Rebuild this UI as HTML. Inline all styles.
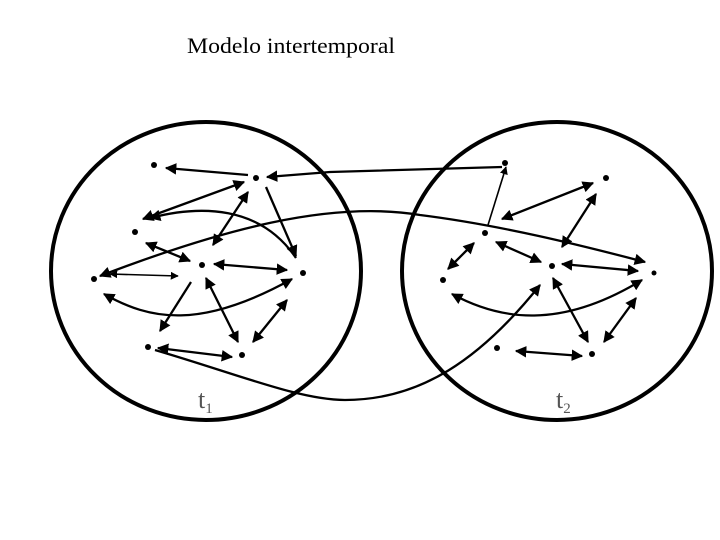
<!DOCTYPE html>
<html><head><style>body{margin:0;background:#fff}svg{display:block}</style></head><body>
<svg width="720" height="540" viewBox="0 0 720 540">
<defs><marker id="a" viewBox="0 0 10 10" refX="9" refY="5" markerWidth="5" markerHeight="5" orient="auto-start-reverse"><path d="M0,0L10,5L0,10z" fill="#000"/></marker></defs>
<text x="187" y="53" font-family="Liberation Serif,serif" font-size="22" textLength="208" lengthAdjust="spacingAndGlyphs">Modelo intertemporal</text>
<ellipse cx="206" cy="271" rx="155" ry="149" fill="none" stroke="#000" stroke-width="4"/>
<ellipse cx="557" cy="271" rx="155" ry="149" fill="none" stroke="#000" stroke-width="4"/>
<g fill="#000">
<circle cx="154" cy="165" r="3"/><circle cx="256" cy="178" r="3"/><circle cx="135" cy="232" r="3"/><circle cx="202" cy="265" r="3"/><circle cx="303" cy="273" r="3"/><circle cx="94" cy="279" r="3"/><circle cx="148" cy="347" r="3"/><circle cx="242" cy="355" r="3"/>
<circle cx="505" cy="163" r="3"/><circle cx="606" cy="178" r="3"/><circle cx="485" cy="233" r="3"/><circle cx="552" cy="266" r="3"/><circle cx="654" cy="273" r="2.5"/><circle cx="443" cy="280" r="3"/><circle cx="497" cy="348" r="3"/><circle cx="592" cy="354" r="3"/>
</g>
<g fill="none" stroke="#000" stroke-width="2.3">
<path d="M502,167 L330,172 L267,177" marker-end="url(#a)"/>
<path d="M248,175 L166,168" marker-end="url(#a)"/>
<path d="M244,182 L143,219" marker-start="url(#a)" marker-end="url(#a)"/>
<path d="M248,192 L213,245" marker-start="url(#a)" marker-end="url(#a)"/>
<path d="M266,187 L296,256" marker-end="url(#a)"/>
<path d="M150,218 C200,205 260,205 296,258" marker-start="url(#a)"/>
<path d="M146,243 L190,261" marker-start="url(#a)" marker-end="url(#a)"/>
<path d="M214,264 L287,270" marker-start="url(#a)" marker-end="url(#a)"/>
<path d="M110,274 L178,276" stroke-width="1.6" marker-start="url(#a)" marker-end="url(#a)"/>
<path d="M100,276 C220,230 330,200 420,215 C500,225 580,245 645,262" marker-start="url(#a)" marker-end="url(#a)"/>
<path d="M191,282 L160,331" marker-end="url(#a)"/>
<path d="M206,278 L238,342" marker-start="url(#a)" marker-end="url(#a)"/>
<path d="M104,294 C150,320 200,330 292,279" marker-start="url(#a)" marker-end="url(#a)"/>
<path d="M287,300 L253,342" marker-start="url(#a)" marker-end="url(#a)"/>
<path d="M158,348 L232,357" marker-start="url(#a)" marker-end="url(#a)"/>
<path d="M155,350 C240,375 300,400 345,400 C420,400 480,360 540,285" marker-end="url(#a)"/>
<path d="M488,225 L506,167" stroke-width="1.6" marker-end="url(#a)"/>
<path d="M502,219 L593,183" marker-start="url(#a)" marker-end="url(#a)"/>
<path d="M562,247 L596,194" marker-start="url(#a)" marker-end="url(#a)"/>
<path d="M496,242 L541,262" marker-start="url(#a)" marker-end="url(#a)"/>
<path d="M562,264 L638,271" marker-start="url(#a)" marker-end="url(#a)"/>
<path d="M448,269 L474,243" marker-start="url(#a)" marker-end="url(#a)"/>
<path d="M553,278 L588,342" marker-start="url(#a)" marker-end="url(#a)"/>
<path d="M452,294 C500,320 560,330 642,280" marker-start="url(#a)" marker-end="url(#a)"/>
<path d="M636,298 L604,342" marker-start="url(#a)" marker-end="url(#a)"/>
<path d="M516,351 L582,356" marker-start="url(#a)" marker-end="url(#a)"/>
</g>
<text x="198" y="408" font-family="Liberation Serif,serif" font-size="26" fill="#555">t<tspan font-size="15" dy="5">1</tspan></text>
<text x="556" y="408" font-family="Liberation Serif,serif" font-size="26" fill="#555">t<tspan font-size="15" dy="5">2</tspan></text>
</svg>
</body></html>
